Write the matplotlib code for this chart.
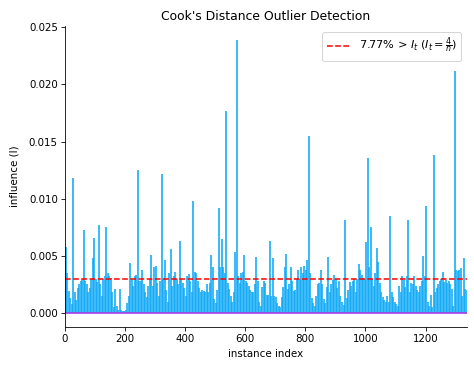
# -*- encoding: utf-8 -*-

import numpy as np
import matplotlib
matplotlib.use('Agg')
import matplotlib.pyplot as plt

DPI = 74
FIG_SIZE = (474 / DPI, 369 / DPI)

# Cook's distance per block of 5 instances (max within block), in units of 1e-3
N_INSTANCES = 1338
BIN = 5
influence_e3 = [
    5.8, 3.5, 1.9, 1.3, 0.8, 11.8, 1.8, 1.1, 2.2, 2.5,
    2.8, 3.0, 7.3, 2.8, 2.5, 1.8, 2.2, 3.0, 4.8, 6.6,
    3.0, 2.7, 7.7, 2.5, 1.5, 3.0, 3.2, 7.5, 3.5, 3.2,
    3.1, 1.8, 0.5, 2.1, 0.6, 0.3, 2.1, 0.3, 0.2, 0.2,
    0.3, 0.9, 1.5, 4.4, 3.0,
    2.4, 3.2, 3.3, 12.5, 2.8, 2.8, 3.8, 2.5, 1.8, 1.4,
    2.4, 3.0, 5.1, 2.4, 4.0, 4.1, 2.6, 1.5, 2.8, 12.2,
    3.0, 4.6, 2.0, 1.0, 3.5, 5.6, 2.4, 3.2, 3.6, 3.0,
    2.5, 6.3, 3.0, 2.6, 2.2, 1.5, 3.2, 3.4, 2.8, 1.8,
    9.8, 3.6, 3.5, 2.8, 2.2,
    1.8, 2.0, 1.9, 1.8, 2.5, 1.8, 2.6, 5.1, 4.0, 1.2,
    0.9, 2.0, 9.2, 4.0, 6.5, 4.0, 3.5, 17.7, 2.6, 2.1,
    1.5, 1.0, 1.8, 5.3, 23.9, 3.2, 2.6, 3.5, 3.6, 5.1,
    2.8, 2.6, 2.4, 2.0, 1.8, 1.8, 2.5, 4.9, 2.8, 1.0,
    0.6, 2.3, 2.8, 2.6, 1.6,
    1.6, 6.3, 1.5, 4.85, 1.5, 1.4, 0.9, 0.6, 0.5, 1.4,
    2.3, 4.0, 5.2, 2.1, 2.5, 4.0, 2.8, 1.9, 2.0, 3.0,
    3.8, 3.0, 4.0, 3.5, 4.1, 3.8, 4.6, 15.5, 3.5, 1.3,
    0.9, 0.6, 1.5, 2.5, 2.6, 3.8, 2.5, 1.2, 0.9, 2.3,
    4.9, 1.8, 2.5, 2.9, 3.3,
    3.0, 2.2, 2.8, 1.5, 1.0, 0.7, 8.1, 1.3, 2.0, 2.7,
    2.4, 2.8, 3.0, 1.8, 3.0, 4.3, 3.8, 3.3, 3.1, 3.0,
    6.2, 13.6, 4.0, 7.5, 3.0, 2.4, 3.5, 5.7, 4.5, 2.6,
    1.8, 1.4, 1.1, 1.0, 1.5, 1.0, 8.5, 1.8, 1.4, 1.0,
    0.8, 0.6, 2.4, 1.8, 3.2,
    2.9, 2.3, 3.2, 8.1, 1.8, 2.6, 2.5, 3.2, 2.4, 2.0,
    1.8, 2.4, 2.8, 5.0, 3.2, 9.4, 1.0, 0.6, 1.6, 0.5,
    13.8, 1.8, 2.2, 2.5, 2.8, 3.0, 3.6, 2.7, 2.9, 2.6,
    2.8, 2.5, 2.1, 0.6, 21.2, 3.8, 3.7, 3.8, 3.9, 1.5,
    4.8, 2.1, 2.0,
]
outlier_pct = '7.77%'

x_ticks = [0, 200, 400, 600, 800, 1000, 1200]
y_ticks = [0.000, 0.005, 0.010, 0.015, 0.020, 0.025]


def plot_cooks_distance():
    influence = np.array(influence_e3) / 1000.0
    index = np.arange(len(influence)) * BIN + BIN // 2
    threshold = 4.0 / N_INSTANCES

    fig = plt.figure(figsize=FIG_SIZE, dpi=DPI)
    ax = fig.add_axes([0.1371, 0.1138, 0.9852 - 0.1371, 0.9295 - 0.1138])

    markers, stems, base = ax.stem(index, influence, linefmt='-', markerfmt=' ', basefmt='-')
    plt.setp(stems, color='#0fa9f7', linewidth=1.55)
    plt.setp(base, color='#a63be8', linewidth=1.6)

    ax.axhline(threshold, ls='--', color='r', linewidth=1.5,
               label=outlier_pct + r' > $I_t$ ($I_t = \frac {4} {n}$)')

    ax.set_xlim(0, N_INSTANCES)
    ax.set_ylim(-0.00122, 0.0251)
    ax.set_xticks(x_ticks)
    ax.set_yticks(y_ticks)
    ax.spines['top'].set_visible(False)
    ax.spines['right'].set_visible(False)

    ax.set_title("Cook's Distance Outlier Detection")
    ax.set_xlabel('instance index', labelpad=5)
    ax.set_ylabel('influence (I)', labelpad=9)
    ax.legend(loc='upper right', frameon=True, fontsize=11)

    fig.savefig('out.png', dpi=DPI)


if __name__ == '__main__':
    plot_cooks_distance()
